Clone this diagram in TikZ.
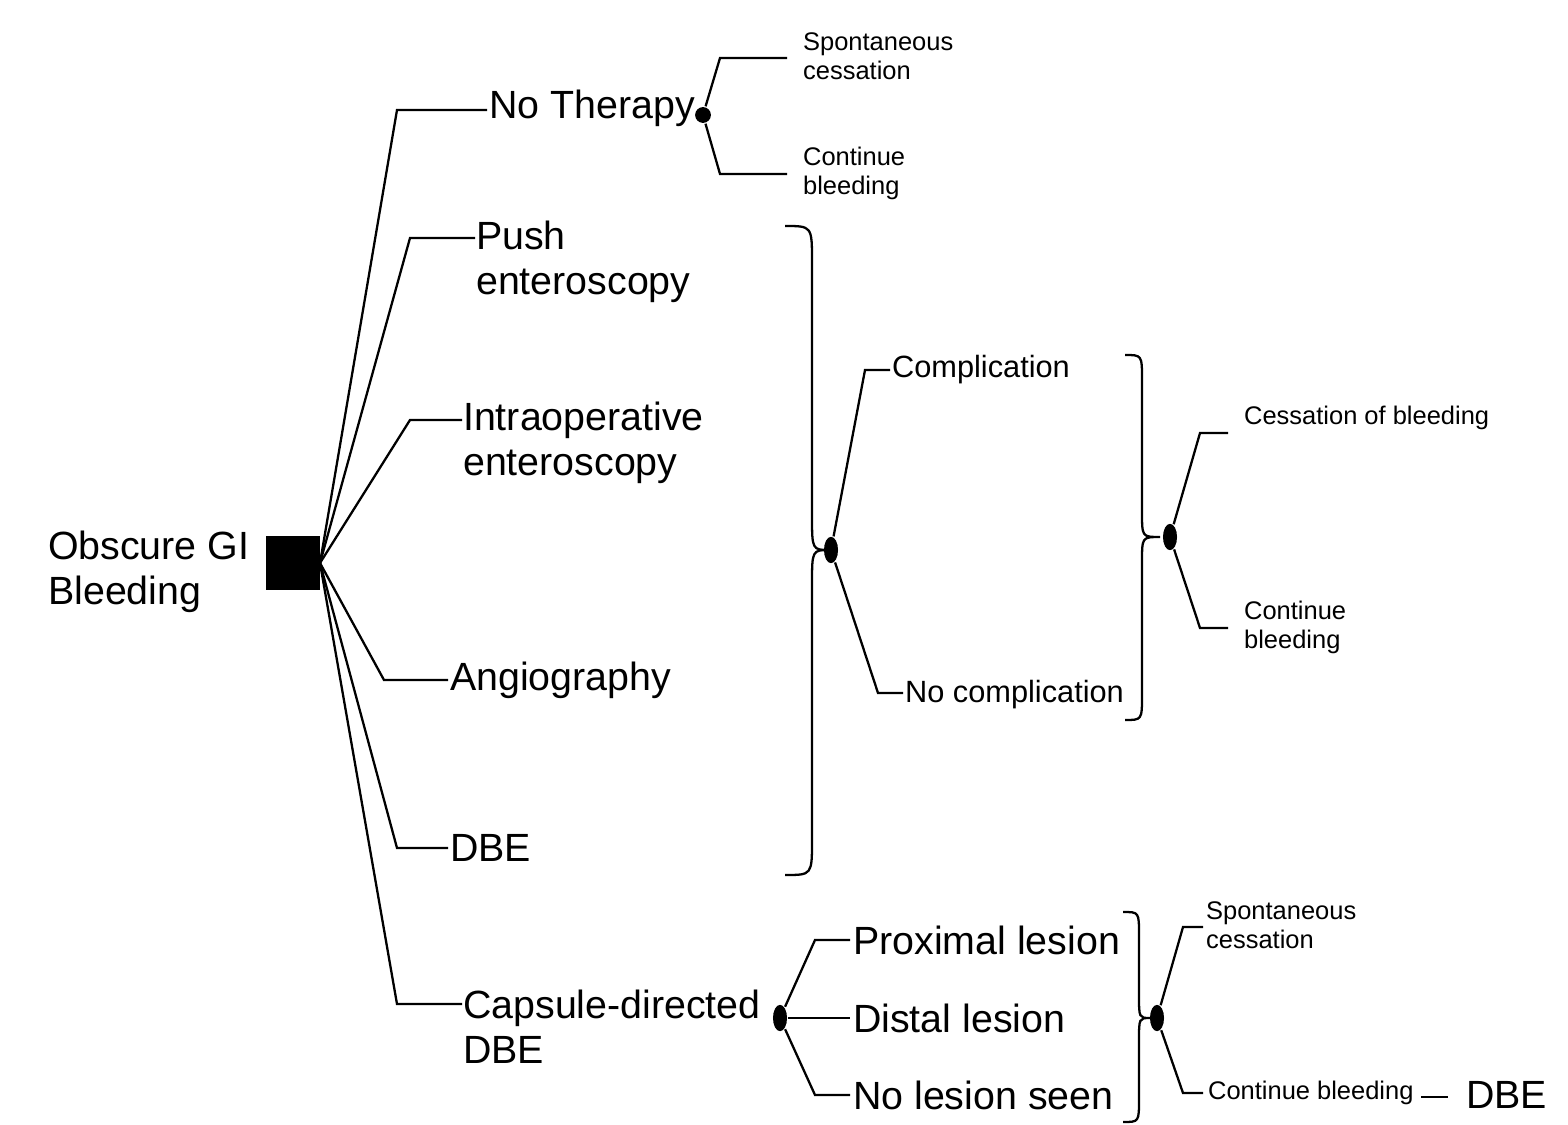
\documentclass[tikz,border=0pt]{standalone}
\usepackage{fontspec}
\setmainfont{Liberation Sans}
\usetikzlibrary{shapes.geometric}
\begin{document}
\begin{tikzpicture}[x=0.02cm,y=-0.02cm,line width=1.3pt,
 big/.style={font=\fontsize{22.4}{25.5}\selectfont,anchor=west,inner sep=0pt,align=left},
 med/.style={font=\fontsize{17.5}{20}\selectfont,anchor=west,inner sep=0pt,align=left},
 sm/.style={font=\fontsize{14.5}{16.5}\selectfont,anchor=west,inner sep=0pt,align=left},
 dot/.style={ellipse,fill=black,inner sep=0pt,minimum width=#1}]
\useasboundingbox (0,0) rectangle (1568,1125);
% root
\node[fill=black,minimum width=1.08cm,minimum height=1.08cm,inner sep=0pt] (sq) at (293,563) {};
\node[big] (root) at (47,572) {Obscure GI\\Bleeding};
\coordinate (r) at (320,563);
% first level
\node[big] (nt) at (488,108) {No Therapy};
\node[big] (push) at (475,262) {Push\\enteroscopy};
\node[big] (intra) at (462,443) {Intraoperative\\enteroscopy};
\node[big] (angio) at (449,680) {Angiography};
\node[big] (dbe) at (449,848) {DBE};
\node[big] (cap) at (462,1027) {Capsule-directed\\DBE};
\coordinate (c1) at (397,110); \coordinate (c1e) at (487,110);
\coordinate (c2) at (410,238); \coordinate (c2e) at (475,238);
\coordinate (c3) at (410,420); \coordinate (c3e) at (462,420);
\coordinate (c4) at (384,680); \coordinate (c4e) at (448,680);
\coordinate (c5) at (397,848); \coordinate (c5e) at (448,848);
\coordinate (c6) at (397,1004); \coordinate (c6e) at (462,1004);
\foreach \i in {1,...,6} \draw (r) -- (c\i) -- (c\i e);
% no therapy
\node[dot=9pt,minimum height=9pt] (d1) at (703,115) {};
\coordinate (a1) at (720,58); \coordinate (a1e) at (787,58);
\coordinate (a2) at (720,174); \coordinate (a2e) at (787,174);
\draw (d1) -- (a1) -- (a1e); \draw (d1) -- (a2) -- (a2e);
\node[sm] (sc1) at (802,56) {Spontaneous\\cessation};
\node[sm] (cb1) at (802,173) {Continue\\bleeding};
% brace 1
\draw (785,226) .. controls (812,226) .. (812,262) -- (812,515) .. controls (812,550) .. (830,550)
 .. controls (812,550) .. (812,585) -- (812,840) .. controls (812,875) .. (785,875);
\node[dot=8pt,minimum height=15pt] (d2) at (831,550) {};
\coordinate (b1) at (865,370); \coordinate (b1e) at (890,370);
\coordinate (b2) at (878,693); \coordinate (b2e) at (903,693);
\draw (d2) -- (b1) -- (b1e); \draw (d2) -- (b2) -- (b2e);
\node[med] (comp) at (891,370) {Complication};
\node[med] (nocomp) at (904,695) {No complication};
% brace 2
\draw (1125,355) .. controls (1142,355) .. (1142,380) -- (1142,512) .. controls (1142,537) .. (1160,537)
 .. controls (1142,537) .. (1142,562) -- (1142,695) .. controls (1142,720) .. (1125,720);
\node[dot=8pt,minimum height=15pt] (d3) at (1170,537) {};
\coordinate (e1) at (1200,433); \coordinate (e1e) at (1228,433);
\coordinate (e2) at (1200,628); \coordinate (e2e) at (1228,628);
\draw (d3) -- (e1) -- (e1e); \draw (d3) -- (e2) -- (e2e);
\node[sm] (cob) at (1243,418) {Cessation of bleeding};
\node[sm] (cb2) at (1243,627) {Continue\\bleeding};
% capsule
\node[dot=8pt,minimum height=15pt] (d4) at (780,1018) {};
\coordinate (f1) at (815,940); \coordinate (f1e) at (850,940);
\coordinate (f2e) at (850,1018);
\coordinate (f3) at (815,1095); \coordinate (f3e) at (850,1095);
\draw (d4) -- (f1) -- (f1e); \draw (d4) -- (f2e); \draw (d4) -- (f3) -- (f3e);
\node[big] (prox) at (852,940) {Proximal lesion};
\node[big] (dist) at (852,1018) {Distal lesion};
\node[big] (nols) at (852,1095) {No lesion seen};
% brace 3
\draw (1123,912) .. controls (1139,912) .. (1139,935) -- (1139,995) .. controls (1139,1018) .. (1150,1018)
 .. controls (1139,1018) .. (1139,1041) -- (1139,1099) .. controls (1139,1122) .. (1123,1122);
\node[dot=8pt,minimum height=15pt] (d5) at (1157,1018) {};
\coordinate (g1) at (1183,927); \coordinate (g1e) at (1203,927);
\coordinate (g2) at (1183,1093); \coordinate (g2e) at (1203,1093);
\draw (d5) -- (g1) -- (g1e); \draw (d5) -- (g2) -- (g2e);
\node[sm] (sc2) at (1205,925) {Spontaneous\\cessation};
\node[sm] (cb3) at (1207,1093) {Continue bleeding};
\node[big] (dbe2) at (1465,1095) {DBE};
\coordinate (h1) at (1421,1097); \coordinate (h2) at (1448,1097);
\draw (h1) -- (h2);
\end{tikzpicture}
\end{document}
